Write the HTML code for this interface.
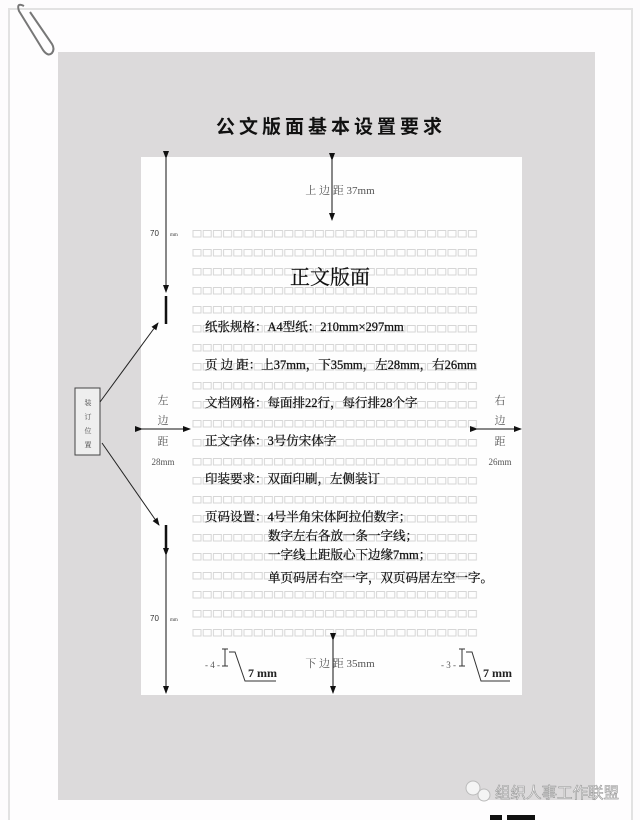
<!DOCTYPE html>
<html><head><meta charset="utf-8"><style>
html,body{margin:0;padding:0;background:#fff;}
svg{display:block;}
text{font-family:"Liberation Serif","Noto Serif CJK SC",serif;}
</style></head><body>
<svg width="640" height="820" viewBox="0 0 640 820" xmlns="http://www.w3.org/2000/svg">
<defs>
<pattern id="g" x="192" y="0" width="10.2" height="19" patternUnits="userSpaceOnUse">
<rect x="1" y="2.5" width="8" height="6.5" fill="none" stroke="#d6d6d6" stroke-width="1"/>
</pattern>
<marker id="a" markerWidth="8" markerHeight="8" refX="7" refY="4" orient="auto" markerUnits="userSpaceOnUse"><path d="M0,1 L8,4 L0,7 Z" fill="#111"/></marker>
</defs>
<rect x="0" y="0" width="640" height="820" fill="#fdfcfd"/>
<rect x="9" y="9" width="623" height="830" fill="#fefdfe" stroke="#e2e2e2" stroke-width="2"/>
<rect x="58" y="52" width="537" height="748" fill="#dcdadb"/>
<!-- paperclip -->
<path d="M24,6 Q16,2 19,11 L43,50 Q48,57 52,53 Q55,49 52,44 L30,12" fill="none" stroke="#777" stroke-width="2"/>
<text x="331" y="133" text-anchor="middle" font-size="19" font-weight="bold" letter-spacing="4" fill="#111" style="font-family:'Liberation Sans','Noto Sans CJK SC',sans-serif">公文版面基本设置要求</text>
<rect x="141" y="157" width="381" height="538" fill="#fefefe"/>
<rect x="192" y="221" width="286" height="418" fill="url(#g)"/>
<!-- text -->
<g fill="#111" font-size="12.5" stroke="#111" stroke-width="0.25">
<text x="330" y="284" text-anchor="middle" font-size="20" fill="#111">正文版面</text>
<text x="205" y="331">纸张规格：A4型纸：210mm×297mm</text>
<text x="205" y="369">页 边 距：上37mm，下35mm，左28mm，右26mm</text>
<text x="205" y="407">文档网格：每面排22行，每行排28个字</text>
<text x="205" y="445">正文字体：3号仿宋体字</text>
<text x="205" y="483">印装要求：双面印刷，左侧装订</text>
<text x="205" y="521">页码设置：4号半角宋体阿拉伯数字；</text>
<text x="268" y="540">数字左右各放一条一字线；</text>
<text x="268" y="559">一字线上距版心下边缘7mm；</text>
<text x="268" y="582">单页码居右空一字，双页码居左空一字。</text>
</g>
<!-- top/bottom margin arrows -->
<line x1="332" y1="160" x2="332" y2="220" stroke="#111" stroke-width="1" marker-start="url(#a)" marker-end="url(#a)"/>
<text x="340" y="194" text-anchor="middle" font-size="11" fill="#555">上 边 距 37mm</text>
<line x1="333" y1="640" x2="333" y2="693" stroke="#111" stroke-width="1" marker-start="url(#a)" marker-end="url(#a)"/>
<text x="340" y="667" text-anchor="middle" font-size="11" fill="#555">下 边 距 35mm</text>
<!-- left verticals -->
<line x1="166" y1="158" x2="166" y2="292" stroke="#111" stroke-width="1" marker-start="url(#a)" marker-end="url(#a)"/>
<line x1="166" y1="296" x2="166" y2="324" stroke="#111" stroke-width="2.5"/>
<line x1="166" y1="525" x2="166" y2="550" stroke="#111" stroke-width="2.5"/>
<line x1="166" y1="555" x2="166" y2="693" stroke="#111" stroke-width="1" marker-start="url(#a)" marker-end="url(#a)"/>
<text x="150" y="236" font-size="8" fill="#333" style="font-family:'Liberation Sans',sans-serif">70</text>
<text x="170" y="236" font-size="5" fill="#333">mm</text>
<text x="150" y="621" font-size="8" fill="#333" style="font-family:'Liberation Sans',sans-serif">70</text>
<text x="170" y="621" font-size="5" fill="#333">mm</text>
<!-- binding box -->
<rect x="75" y="388" width="25" height="67" fill="#eee" stroke="#444" stroke-width="1"/>
<g font-size="7" fill="#444" text-anchor="middle"><text x="88" y="405">装</text><text x="88" y="419">订</text><text x="88" y="433">位</text><text x="88" y="447">置</text></g>
<line x1="100" y1="402" x2="158" y2="323" stroke="#222" stroke-width="1" marker-end="url(#a)"/>
<line x1="102" y1="443" x2="159" y2="525" stroke="#222" stroke-width="1" marker-end="url(#a)"/>
<!-- side margins -->
<line x1="142" y1="429" x2="190" y2="429" stroke="#111" stroke-width="1" marker-start="url(#a)" marker-end="url(#a)"/>
<g font-size="11" fill="#555" text-anchor="middle"><text x="163" y="404">左</text><text x="163" y="424">边</text><text x="163" y="445">距</text><text x="163" y="465" font-size="9">28mm</text>
<text x="500" y="404">右</text><text x="500" y="424">边</text><text x="500" y="445">距</text><text x="500" y="465" font-size="9">26mm</text></g>
<line x1="477" y1="429" x2="521" y2="429" stroke="#111" stroke-width="1" marker-start="url(#a)" marker-end="url(#a)"/>
<!-- page number marks -->
<g stroke="#333" stroke-width="1" fill="none">
<path d="M222,649 H228 M225,649 V666 M222,666 H228"/>
<path d="M229,652 H235 L245,681 H276"/>
<path d="M459,649 H465 M462,649 V666 M459,666 H465"/>
<path d="M466,652 H472 L481,681 H510"/>
</g>
<text x="205" y="668" font-size="9" fill="#555">- 4 -</text>
<text x="441" y="668" font-size="9" fill="#555">- 3 -</text>
<text x="248" y="677" font-size="12" font-weight="bold" fill="#222">7 mm</text>
<text x="483" y="677" font-size="12" font-weight="bold" fill="#222">7 mm</text>
<!-- watermark -->
<circle cx="473" cy="788" r="7" fill="#f4f4f4" stroke="#bbb"/>
<circle cx="484" cy="795" r="6" fill="#f4f4f4" stroke="#bbb"/>
<text x="495" y="798" font-size="15.5" fill="#f6f6f6" stroke="#999" stroke-width="0.6" style="font-family:'Liberation Sans','Noto Sans CJK SC',sans-serif">组织人事工作联盟</text>
<rect x="490" y="815" width="12" height="5" fill="#111"/><rect x="507" y="815" width="28" height="5" fill="#111"/>
</svg>
</body></html>
